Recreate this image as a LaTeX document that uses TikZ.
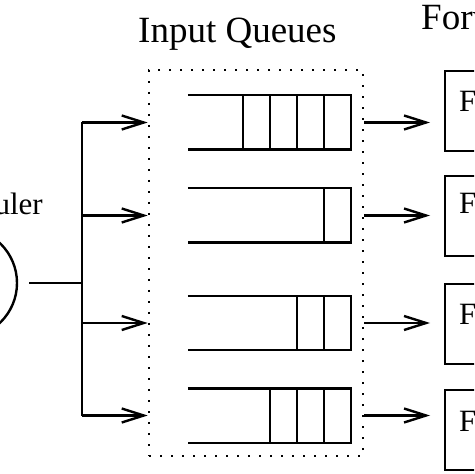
\documentclass[tikz,border=0pt]{standalone}
\usepackage{fontspec}
\setmainfont{Liberation Serif}
\usetikzlibrary{calc}
\usetikzlibrary{positioning}
\usetikzlibrary{arrows.meta}

\tikzset{
  arr/.style={-{Straight Barb[length=11pt,width=7pt]}},
  queue/.style={minimum width=80.5pt,minimum height=26pt,inner sep=0pt},
  fwdbox/.style={draw,minimum width=40pt,minimum height=40pt,inner sep=0pt,anchor=north west},
  dotbox/.style={draw,line width=1.3pt,dash pattern=on 1.2pt off 4.3pt,inner sep=0pt},
  bigtext/.style={font=\fontsize{18.5}{22}\selectfont,inner sep=0pt,anchor=base west},
  smalltext/.style={font=\fontsize{15.5}{18}\selectfont,inner sep=0pt},
}

\begin{document}
\begin{tikzpicture}[x=0.5pt,y=-0.5pt,line width=1.2pt]
        \useasboundingbox (0,0) rectangle (474,474);
        \clip (0,0) rectangle (474,474);

        \node[bigtext] (qtitle) at (137,43) {Input Queues};
        \node[bigtext] (ftitle) at (420,30) {Forw};
        \node[smalltext,anchor=base east] (stitle) at (44,215) {uler};

        \node[draw,circle,minimum size=55pt,inner sep=0pt] (sched) at (-38,283) {};
        \coordinate (bus) at (82,283);

        \node[dotbox,minimum width=107pt,minimum height=193pt] (inq) at (256,263) {};

        \node[queue] (q1) at (269.5,122.5) {};
        \node[queue] (q2) at (269.5,215.5) {};
        \node[queue] (q3) at (269.5,323) {};
        \node[queue] (q4) at (269.5,415.5) {};

        \node[fwdbox] (fwd1) at (444,70) {};
        \node[fwdbox] (fwd2) at (444,175) {};
        \node[fwdbox] (fwd3) at (444,283) {};
        \node[fwdbox] (fwd4) at (444,389) {};

        \node[smalltext,anchor=north west] (f1) at ($(fwd1.north west)+(14,20)$) {F};
        \node[smalltext,anchor=north west] (f2) at ($(fwd2.north west)+(14,17)$) {F};
        \node[smalltext,anchor=north west] (f3) at ($(fwd3.north west)+(14,20)$) {F};
        \node[smalltext,anchor=north west] (f4) at ($(fwd4.north west)+(14,21)$) {F};

        \draw ($(sched.east)+(11,0)$) -- (bus);
        \draw (q1.west -| bus) -- (q4.west -| bus);

        \foreach \q/\n in {1/4,2/1,3/2,4/3} {
          \draw (q\q.north west) -- (q\q.north east) -- (q\q.south east) -- (q\q.south west);
          \foreach \c in {1,...,\n}
            \draw ($(q\q.north east)+(-27*\c,0)$) -- ($(q\q.south east)+(-27*\c,0)$);
          \draw[arr] (q\q.west -| bus) -- (q\q.west -| inq.west);
          \draw[arr] (q\q.east -| inq.east) -- ($(q\q.east -| fwd\q.west)+(-14,0)$);
        }
      \end{tikzpicture}
\end{document}
